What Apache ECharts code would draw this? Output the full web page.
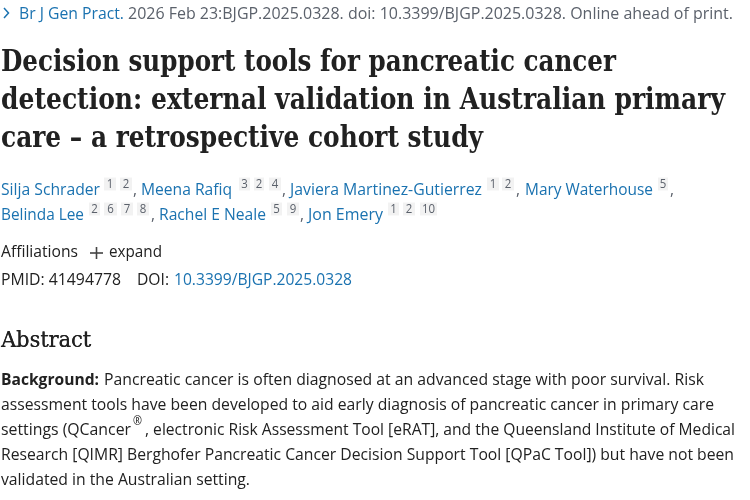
<!DOCTYPE html>
<html><head><meta charset="utf-8">
<style>html,body{margin:0;padding:0;background:#fff}#c{width:750px;height:500px}</style>
<script src="https://cdn.jsdelivr.net/npm/echarts@6/dist/echarts.min.js"></script>
</head><body><div id="c"></div>
<script>
const citationTexts = ["Br J Gen Pract.", "2026 Feb 23:BJGP.2025.0328. doi: 10.3399/BJGP.2025.0328. Online ahead of print."];
const titleLines = ["Decision support tools for pancreatic cancer", "detection: external validation in Australian primary", "care – a retrospective cohort study"];
const authorNames = ["Silja Schrader", "Meena Rafiq", "Javiera Martinez-Gutierrez", "Mary Waterhouse", "Belinda Lee", "Rachel E Neale", "Jon Emery"];
const authorAffils = [["1","2"],["3","2","4"],["1","2"],["5"],["2","6","7","8"],["5","9"],["1","2","10"]];
const affilTexts = ["Affiliations", "expand"];
const idTexts = ["PMID: 41494778", "DOI:", "10.3399/BJGP.2025.0328"];
const abstractHeading = "Abstract";
const abstractLead = "Background:";
const abstractLines = ["Pancreatic cancer is often diagnosed at an advanced stage with poor survival. Risk",
 "assessment tools have been developed to aid early diagnosis of pancreatic cancer in primary care",
 "settings (QCancer", ", electronic Risk Assessment Tool [eRAT], and the Queensland Institute of Medical",
 "Research [QIMR] Berghofer Pancreatic Cancer Decision Support Tool [QPaC Tool]) but have not been",
 "validated in the Australian setting."];

const SANS = '"Open Sans"', SERIF = '"DejaVu Serif"';
const LINK = '#1a72b0', DARK = '#212121', GRAY = '#5b616b';
const cv = document.createElement('canvas').getContext('2d');
const els = [];
function txt(s, x0, x1, y, o) {
  const o2 = Object.assign({size:16, family:SANS, weight:'normal', color:DARK}, o||{});
  const font = o2.weight + ' ' + o2.size + 'px ' + o2.family;
  cv.font = font;
  const w = cv.measureText(s).width;
  els.push({type:'text', x:x0, y:y+1, scaleX:(x1-x0)/w, originX:0, originY:0, silent:true,
    style:{text:s, font:font, fill:o2.color, textAlign:'left', textVerticalAlign:'middle'}});
}
function sup(s, x0, x1, y) {
  els.push({type:'rect', shape:{x:x0, y:y-6.5, width:x1-x0, height:13}, style:{fill:'#f2f2f2'}, silent:true});
  cv.font = '13px '+SANS;
  const tw = cv.measureText(s).width*0.88;
  txt(s, (x0+x1)/2-tw/2, (x0+x1)/2+tw/2, y-1, {size:13, color:GRAY});
}
// top citation
els.push({type:'polyline', shape:{points:[[4,8],[8.5,13],[4,18]]}, style:{stroke:LINK, lineWidth:1.5, fill:null}, silent:true});
txt(citationTexts[0], 19, 124, 13, {color:LINK});
txt(citationTexts[1], 128, 733, 13, {color:GRAY});
// title
[[1,616,62],[1,725,100],[1,483,138]].forEach((p,i)=>txt(titleLines[i],p[0],p[1],p[2],{size:29,family:SERIF,weight:'bold'}));
// authors
const nameBox = [[1,100,189],[141,232,189],[290,482,189],[525,653,189],[1,84,214],[159,266,214],[308,383,214]];
const supBox = [[[104,116],[120,132]],[[239,250],[254,264],[269,281]],[[487,499],[502,514]],[[658,668]],
  [[89,100],[104,117],[121,133],[137,149]],[[271,282],[287,299]],[[388,399],[403,415],[420,437]]];
const commas = [133,282,516,670,151,300];
authorNames.forEach((n,i)=>{
  const b = nameBox[i];
  txt(n,b[0],b[1],b[2],{color:LINK});
  authorAffils[i].forEach((a,j)=>sup(a,supBox[i][j][0],supBox[i][j][1],b[2]-5));
  if(i<commas.length) txt(',',commas[i],commas[i]+4,b[2],{color:GRAY});
});
// affiliations
txt(affilTexts[0],1,78,251);
els.push({type:'line',shape:{x1:90,y1:253,x2:103,y2:253},style:{stroke:'#444',lineWidth:1.6},silent:true});
els.push({type:'line',shape:{x1:96.5,y1:247,x2:96.5,y2:259},style:{stroke:'#444',lineWidth:1.6},silent:true});
txt(affilTexts[1],109,162,251);
// ids
txt(idTexts[0],1,121,279);
txt(idTexts[1],137,169,279);
txt(idTexts[2],174,352,279,{color:LINK});
// abstract
txt(abstractHeading,1,91,340,{size:22,family:SERIF,weight:'normal'});
txt(abstractHeading,1.3,91.3,340,{size:22,family:SERIF,weight:'normal'});
txt(abstractLead,1,99,379,{weight:'bold'});
txt(abstractLines[0],104,704,379);
txt(abstractLines[1],1,714,404);
txt(abstractLines[2],1,131,429);
txt('®',133,142,421,{size:12});
txt(abstractLines[3],145,735,429);
txt(abstractLines[4],1,734,454);
txt(abstractLines[5],1,250,479);

const chart = echarts.init(document.getElementById('c'));
chart.setOption({animation:false, backgroundColor:'#fff', graphic:{elements:els}});
</script></body></html>
